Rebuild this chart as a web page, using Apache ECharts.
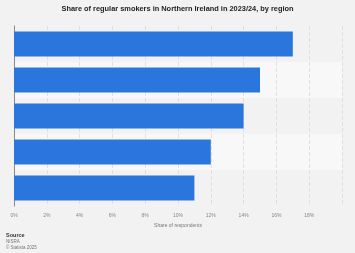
<!DOCTYPE html>
<html>
<head>
<meta charset="utf-8">
<script src="https://cdn.jsdelivr.net/npm/echarts@6/dist/echarts.min.js"></script>
<style>
  html, body { margin: 0; padding: 0; background: #f2f2f2; }
  #chart { width: 355px; height: 253px; }
</style>
</head>
<body>
<div id="chart"></div>
<script>
var regions = ['Region A', 'Region B', 'Region C', 'Region D', 'Region E'];
var smokers = [17, 15, 14, 12, 11];
var tickMax = 20;

var chart = echarts.init(document.getElementById('chart'));
var option = {
    backgroundColor: '#f2f2f2',
    animation: false,
    title: {
        text: 'Share of regular smokers in Northern Ireland in 2023/24, by region',
        left: 'center',
        top: 0,
        textStyle: { fontFamily: 'Arial', fontSize: 7.4, fontWeight: 'bold', color: '#222' }
    },
    graphic: [
        { type: 'text', left: 6, top: 232, style: { text: 'Source', font: 'bold 5.5px Arial', fill: '#333' } },
        { type: 'text', left: 6, top: 239, style: { text: 'NISRA', font: '4.5px Arial', fill: '#777' } },
        { type: 'text', left: 6, top: 245, style: { text: '© Statista 2025', font: '4.5px Arial', fill: '#777' } }
    ],
    grid: { left: 14, right: 13, top: 26, bottom: 47 },
    xAxis: {
        type: 'value',
        min: 0,
        max: tickMax,
        interval: 2,
        name: 'Share of respondents',
        nameLocation: 'middle',
        nameGap: 16,
        nameTextStyle: { fontFamily: 'Arial', fontSize: 5, color: '#777' },
        axisLine: { show: false },
        axisTick: { show: false },
        axisLabel: {
            fontFamily: 'Arial', fontSize: 5, color: '#888', margin: 7,
            formatter: function (v) { return v === tickMax ? '' : v + '%'; }
        },
        splitLine: { show: true, lineStyle: { color: '#e0e0e0', type: 'dashed', width: 1 } }
    },
    yAxis: {
        type: 'category',
        data: regions,
        inverse: true,
        axisLine: { show: true, lineStyle: { color: '#888', width: 1 } },
        axisTick: { show: false },
        axisLabel: { show: false },
        splitArea: { show: true, areaStyle: { color: ['rgba(0,0,0,0)', '#f8f8f8'] } }
    },
    series: [{
        type: 'bar',
        data: smokers,
        barCategoryGap: '30%',
        itemStyle: { color: '#2a76dd' }
    }]
};
chart.setOption(option);
</script>
</body>
</html>
